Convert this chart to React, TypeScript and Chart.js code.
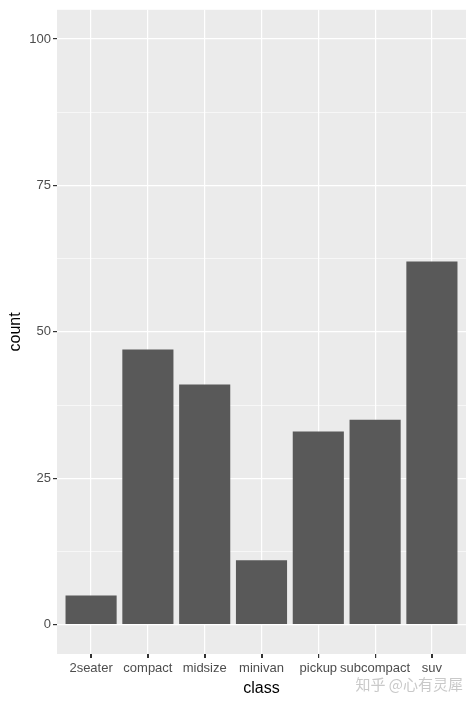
import React, { useEffect, useRef } from "react";
import { Chart, registerables } from "chart.js";

Chart.register(...registerables);

const classes = ["2seater", "compact", "midsize", "minivan", "pickup", "subcompact", "suv"];
const counts = [5, 47, 41, 11, 33, 35, 62];
const yTicks = [0, 12.5, 25, 37.5, 50, 62.5, 75, 87.5, 100];

const panelBg = {
  id: "panelBg",
  beforeDraw(chart: any) {
    const { ctx, chartArea } = chart;
    ctx.save();
    ctx.fillStyle = "#FFFFFF";
    ctx.fillRect(0, 0, chart.width, chart.height);
    ctx.fillStyle = "#EBEBEB";
    ctx.fillRect(chartArea.left, chartArea.top, chartArea.right - chartArea.left, chartArea.bottom - chartArea.top);
    ctx.restore();
  },
  afterDraw(chart: any) {
    const { ctx, chartArea } = chart;
    const xs = chart.scales.x;
    ctx.save();
    ctx.strokeStyle = "#333333";
    ctx.lineWidth = 1;
    classes.forEach((_, i) => {
      const px = Math.round(xs.getPixelForValue(i)) + 0.5;
      ctx.beginPath();
      ctx.moveTo(px, chartArea.bottom);
      ctx.lineTo(px, chartArea.bottom + 4);
      ctx.stroke();
    });
    ctx.fillStyle = "#C9C9C9";
    ctx.font = '15px "Noto Sans CJK SC"';
    ctx.textAlign = "right";
    ctx.textBaseline = "middle";
    ctx.fillText("知乎 @心有灵犀", 463, 684);
    ctx.restore();
  },
};

export default function App() {
  const ref = useRef<HTMLCanvasElement>(null);
  useEffect(() => {
    document.body.style.margin = "0";
    const chart = new Chart(ref.current!, {
      type: "bar",
      data: {
        datasets: [
          {
            data: classes.map((c, i) => ({ x: i, y: counts[i] })),
            backgroundColor: "#595959",
            barPercentage: 0.9,
            categoryPercentage: 1,
          },
        ],
      },
      options: {
        animation: false,
        responsive: false,
        devicePixelRatio: 1,
        layout: { padding: { left: 6, right: 8, top: 7, bottom: 4 } },
        plugins: { legend: { display: false }, tooltip: { enabled: false } },
        scales: {
          x: {
            type: "linear",
            min: -0.6,
            max: 6.6,
            offset: false,
            afterBuildTicks: (s: any) => {
              s.ticks = classes.map((_, i) => ({ value: i }));
            },
            afterFit: (s: any) => {
              s.height = 44;
            },
            ticks: {
              callback: (v: any) => classes[v as number] ?? "",
              color: "#4D4D4D",
              font: { family: "Arial, 'Liberation Sans'", size: 13 },
              padding: 3,
              maxRotation: 0,
              autoSkip: false,
            },
            grid: {
              offset: false,
              color: "#FFFFFF",
              lineWidth: 1.2,
              tickColor: "#333333",
              tickLength: 4,
              drawTicks: true,
            },
            border: { display: false },
            title: {
              display: true,
              text: "class",
              color: "#000000",
              font: { family: "Arial, 'Liberation Sans'", size: 16 },
              padding: { top: 0, bottom: 0 },
            },
          },
          y: {
            type: "linear",
            min: -5,
            max: 105,
            afterBuildTicks: (s: any) => {
              s.ticks = yTicks.map((v) => ({ value: v }));
            },
            afterFit: (s: any) => {
              s.width = 51;
            },
            ticks: {
              callback: (v: any) => (Number(v) % 25 === 0 ? String(v) : ""),
              color: "#4D4D4D",
              font: { family: "Arial, 'Liberation Sans'", size: 13 },
              padding: 2,
            },
            grid: {
              color: "#FFFFFF",
              lineWidth: (c: any) => (c.tick && c.tick.value % 25 === 0 ? 1.2 : 0.6),
              tickColor: (c: any) => (c.tick && c.tick.value % 25 === 0 ? "#333333" : "rgba(0,0,0,0)"),
              tickLength: 4,
            },
            border: { display: false },
            title: {
              display: true,
              text: "count",
              color: "#000000",
              font: { family: "Arial, 'Liberation Sans'", size: 16 },
              padding: { top: 0, bottom: 0 },
            },
          },
        },
      },
      plugins: [panelBg],
    });
    return () => chart.destroy();
  }, []);
  return (
    <div style={{ width: 474, height: 702 }}>
      <canvas ref={ref} width={474} height={702} style={{ width: 474, height: 702, display: "block" }} />
    </div>
  );
}
